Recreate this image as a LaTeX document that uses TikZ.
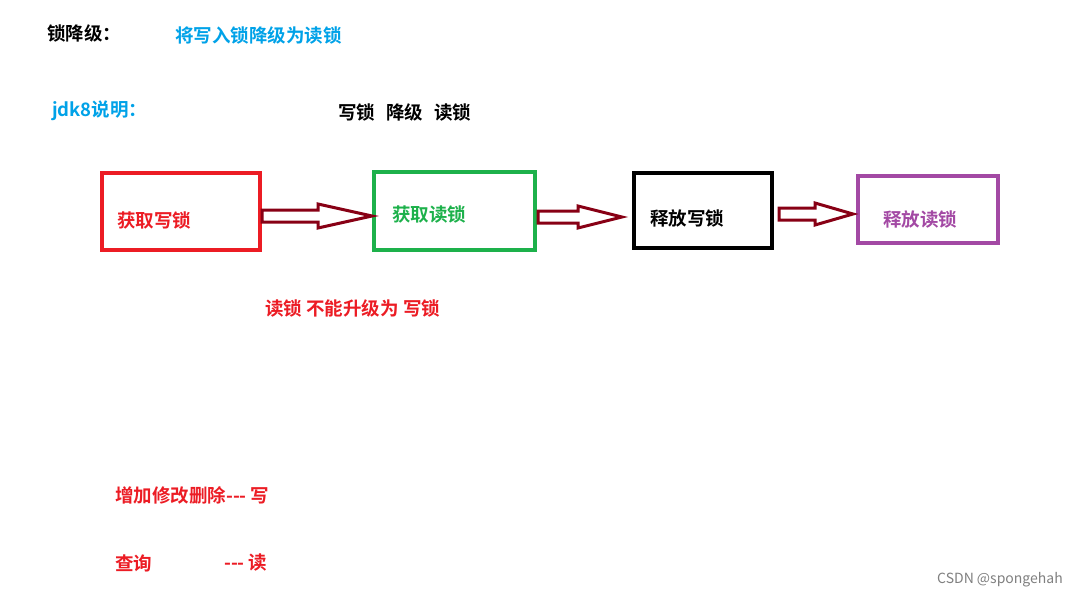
\documentclass[tikz,border=0pt]{standalone}
\usepackage{fontspec}
\setmainfont{Noto Sans CJK SC}[BoldFont={* Bold}]
\definecolor{cred}{HTML}{EC1C24}
\definecolor{cgreen}{HTML}{1DB14B}
\definecolor{cpurple}{HTML}{A349A4}
\definecolor{cblue}{HTML}{00A2E8}
\definecolor{carrow}{HTML}{880015}
\begin{document}
\begin{tikzpicture}[x=1pt,y=-1pt,
  lbl/.style={anchor=west,inner sep=0pt,font=\fontsize{18.5}{20}\selectfont\bfseries},
  boxs/.style={line width=3.5pt},
  arr/.style={draw=carrow,line width=3pt,line join=miter}]
\useasboundingbox[fill=white] (0,0) rectangle (1079,598);
\draw[boxs,cred] (102,173) rectangle (260,250);
\draw[boxs,cgreen] (374,172) rectangle (535,250);
\draw[boxs,black] (634,173) rectangle (772,248);
\draw[boxs,cpurple] (858,176) rectangle (998,243);
\draw[arr] (262,210) -- (318,210) -- (318,204) -- (372,216) -- (318,228) -- (318,222) -- (262,222) -- cycle;
\draw[arr] (538,211) -- (578,211) -- (578,206) -- (622,217) -- (578,228) -- (578,223) -- (538,223) -- cycle;
\draw[arr] (779,208) -- (815,208) -- (815,203) -- (853,214) -- (815,225) -- (815,220) -- (779,220) -- cycle;
\node[lbl] (t1) at (47,33) {锁降级：};
\node[lbl,text=cblue] (t2) at (175,35) {将写入锁降级为读锁};
\node[lbl,text=cblue] (t3) at (52,111) {jdk8说明：};
\node[lbl] (t4) at (338,112) {写锁\hspace{0.6em}降级\hspace{0.6em}读锁};
\node[lbl,text=cred] (b1) at (117,220) {获取写锁};
\node[lbl,text=cgreen] (b2) at (392,215) {获取读锁};
\node[lbl] (b3) at (650,218) {释放写锁};
\node[lbl,text=cpurple] (b4) at (883,219) {释放读锁};
\node[lbl,text=cred] (n1) at (265,308) {读锁 不能升级为 写锁};
\node[lbl,text=cred] (n2) at (115,495) {增加修改删除{-}{-}{-} 写};
\node[lbl,text=cred] (n3) at (115,563) {查询};
\node[lbl,text=cred] (n4) at (224,563) {{-}{-}{-} 读};
\node[anchor=west,inner sep=0pt,text=gray,font=\fontsize{14}{16}\selectfont] (wm) at (937,580) {CSDN @spongehah};
\end{tikzpicture}
\end{document}
